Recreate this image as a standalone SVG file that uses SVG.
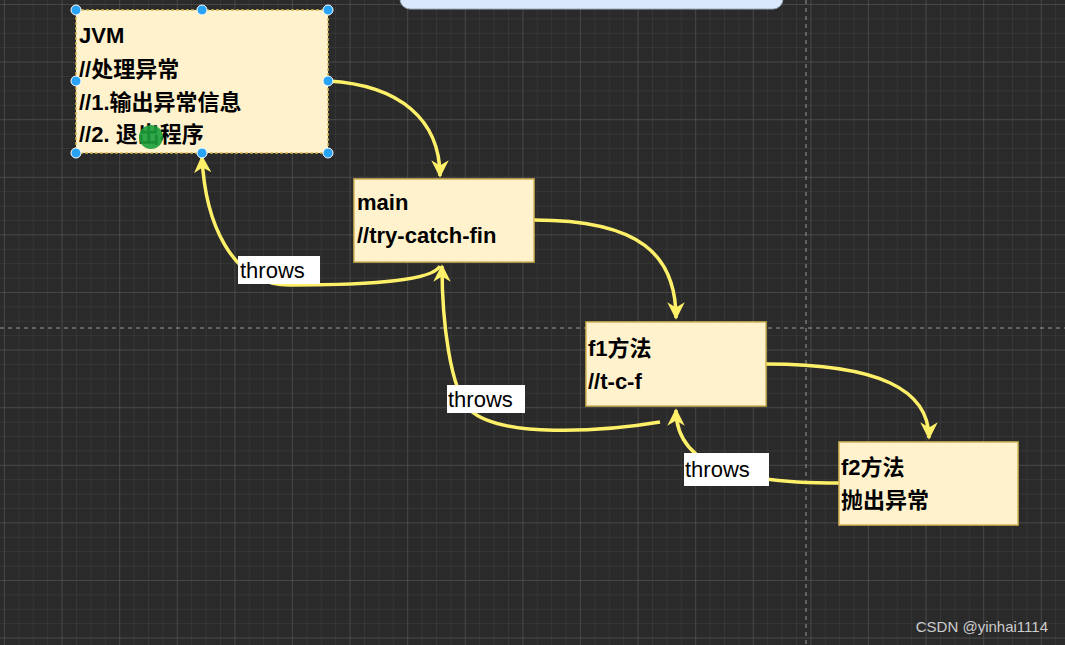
<svg xmlns="http://www.w3.org/2000/svg" width="1065" height="645" viewBox="0 0 1065 645">
<defs>
<pattern id="minor" width="14.4" height="14.4" patternUnits="userSpaceOnUse" x="4" y="4">
<path d="M14.4 0H0V14.4" fill="none" stroke="#414141" stroke-width="1"/>
</pattern>
<pattern id="major" width="57.6" height="57.6" patternUnits="userSpaceOnUse" x="4" y="4">
<path d="M57.6 0H0V57.6" fill="none" stroke="#555" stroke-width="1"/>
</pattern>
<marker id="ah" viewBox="0 0 10 10" refX="9" refY="5" markerWidth="5" markerHeight="5" orient="auto" markerUnits="strokeWidth">
<path d="M0 0L10 5L0 10L3 5Z" fill="#fff06a"/>
</marker>
<style>
.box{fill:#fff2cc;stroke:#d6b656;stroke-width:1.5}
.t{font-family:"Liberation Sans","Noto Sans CJK SC",sans-serif;font-weight:bold;font-size:22px;fill:#000}
.c{fill:none;stroke:#fff06a;stroke-width:3.5;marker-end:url(#ah)}
.lb{fill:#fff}
.lt{font-family:"Liberation Sans",sans-serif;font-size:22px;fill:#000}
.h{fill:#29a3f5;stroke:#fff;stroke-width:1}
</style>
</defs>
<rect width="1065" height="645" fill="#2a2a2a"/>
<rect width="1065" height="645" fill="url(#minor)"/>
<rect width="1065" height="645" fill="url(#major)"/>
<line x1="806" y1="0" x2="806" y2="645" stroke="#999" stroke-dasharray="4 4"/>
<line x1="0" y1="328" x2="1065" y2="328" stroke="#999" stroke-dasharray="4 4"/>
<rect x="400" y="-20" width="383" height="29" rx="10" fill="#dae8fc" stroke="#9ab"/>
<g id="connectors">
<path class="c" d="M328 81 C400 85 440 120 440 176"/>
<path class="c" d="M534 220 C640 220 676 255 676 318"/>
<path class="c" d="M766 364 C880 364 929 390 929 438"/>
<path class="c" d="M839 483 C760 483 676 475 676 410"/>
<path class="c" d="M660 422 C600 432 500 438 470 410 C450 390 442 320 442 266"/>
<path class="c" d="M440 266 C430 285 330 285 290 285 C230 285 205 220 202 157"/>
<rect class="lb" x="238" y="256" width="82" height="28"/><text class="lt" x="240" y="278">throws</text>
<rect class="lb" x="447" y="385" width="78" height="28"/><text class="lt" x="448" y="407">throws</text>
<rect class="lb" x="684" y="453" width="85" height="33"/><text class="lt" x="685" y="477">throws</text>
</g>
<g id="jvm">
<rect class="box" x="76" y="10" width="252" height="143" stroke="#29a3f5" stroke-dasharray="3 2"/>
<text class="t" x="79" y="43">JVM</text>
<text class="t" x="79" y="77">//处理异常</text>
<text class="t" x="79" y="110">//1.输出异常信息</text>
<text class="t" x="79" y="142">//2. 退出程序</text>
<circle cx="151" cy="137" r="12" fill="#1c9e3a" opacity="0.9"/>
<circle class="h" cx="76" cy="10" r="5"/><circle class="h" cx="202" cy="10" r="5"/><circle class="h" cx="328" cy="10" r="5"/>
<circle class="h" cx="76" cy="81" r="5"/><circle class="h" cx="328" cy="81" r="5"/>
<circle class="h" cx="76" cy="153" r="5"/><circle class="h" cx="202" cy="153" r="5"/><circle class="h" cx="328" cy="153" r="5"/>
</g>
<g id="main">
<rect class="box" x="354" y="179" width="180" height="83"/>
<text class="t" x="357" y="210">main</text>
<text class="t" x="357" y="243">//try-catch-fin</text>
</g>
<g id="f1">
<rect class="box" x="586" y="322" width="180" height="84"/>
<text class="t" x="588" y="356">f1方法</text>
<text class="t" x="588" y="389">//t-c-f</text>
</g>
<g id="f2">
<rect class="box" x="839" y="442" width="179" height="83"/>
<text class="t" x="841" y="475">f2方法</text>
<text class="t" x="841" y="508">抛出异常</text>
</g>
<text x="1048" y="632" text-anchor="end" font-family="Liberation Sans,sans-serif" font-size="15" fill="#ccc">CSDN @yinhai1114</text>
</svg>
